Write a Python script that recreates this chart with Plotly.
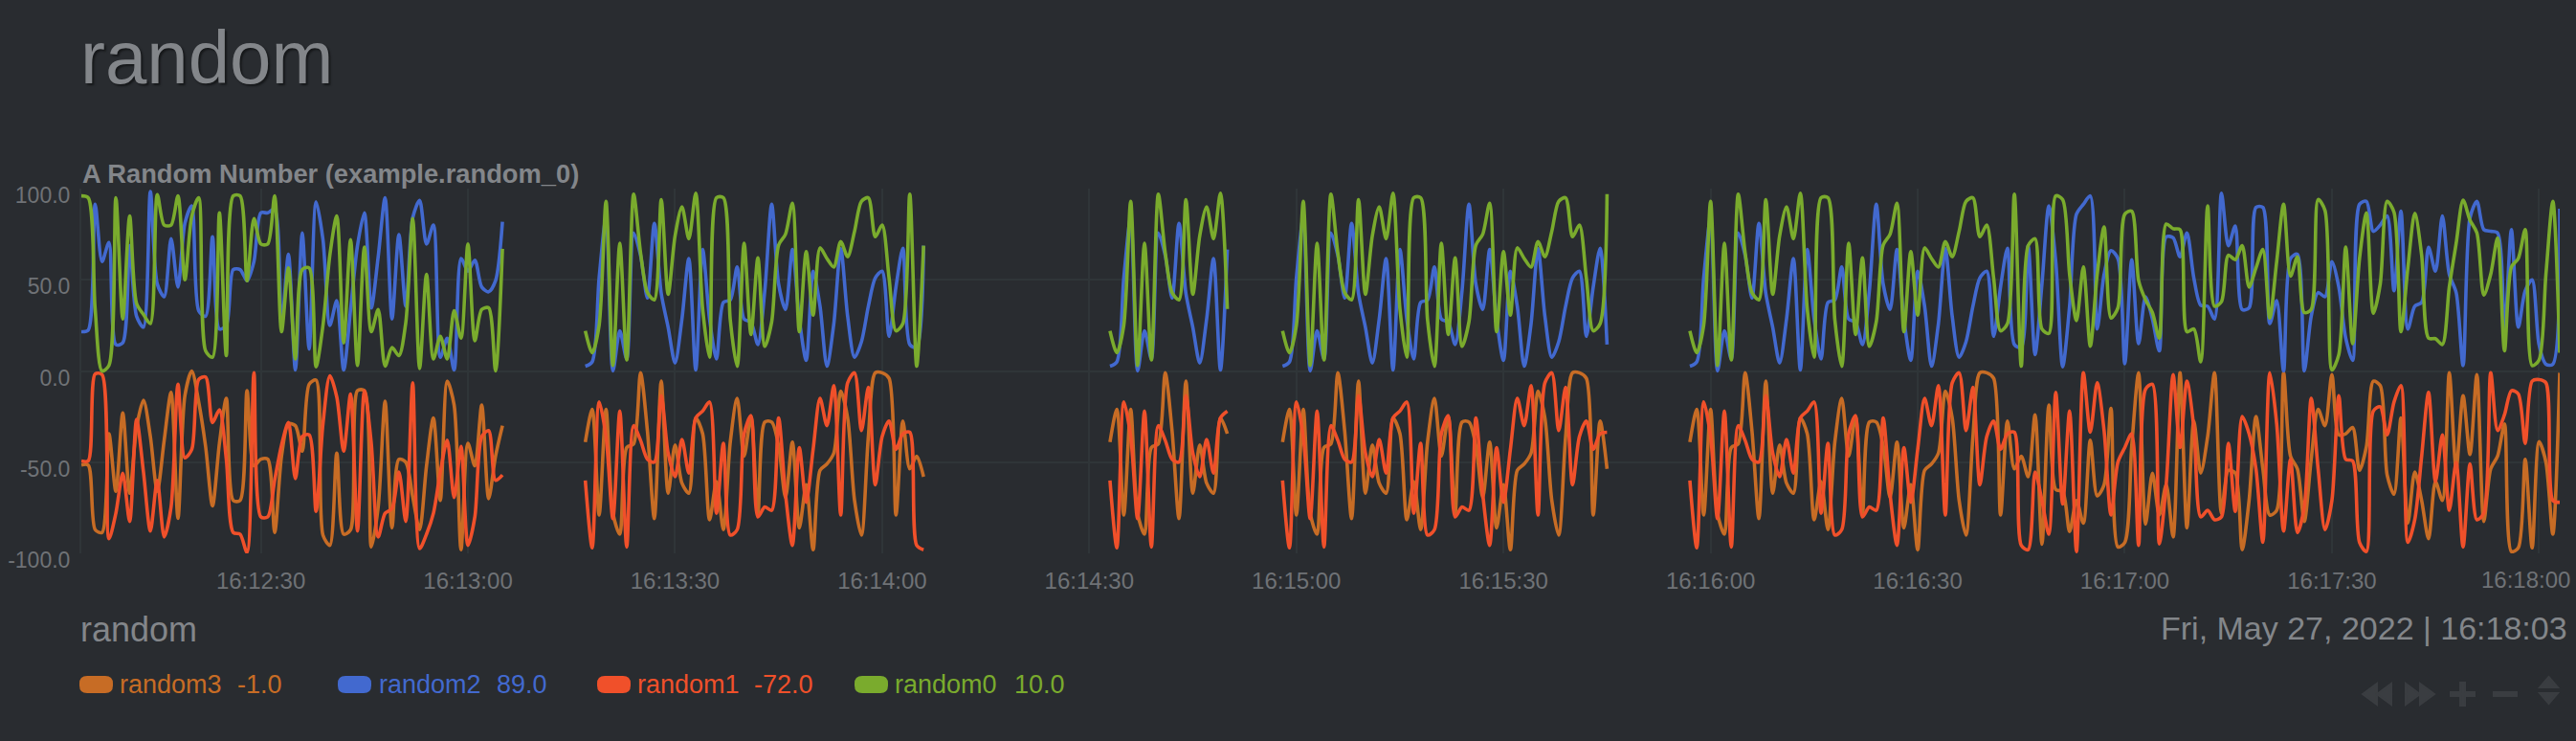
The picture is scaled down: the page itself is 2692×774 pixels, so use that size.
import pandas as pd
import plotly.graph_objects as go

WIDTH, HEIGHT = 2692, 774
LEFT, RIGHT, TOP, BOTTOM = 85, 2675, 197, 578

# first run of the collector, 16:12:04 onwards, one sample per second
first_start = "2022-05-27 16:12:04"
random0_first = [96, 95, 34, 0, 3, 95, 28.5, 85, 37, 31, 26, 96.7, 80, 80, 96, 50, 85, 95, 11, 7.5, 86.7, 8.4, 96, 96, 49.5, 83.6, 69.6, 69.6, 96, 21.5, 56.5, 6.6, 55.6, 56.5, 2.3, 25, 63.5, 85, 15.4, 72, 3, 68, 21.5, 33.7, 2.6, 12.8, 8.4, 26.7, 83.6, 1.4, 53, 6.6, 19, 6.6, 33, 18, 69.6, 16.6, 33.7, 34.6, 0, 67]
random2_first = [21.5, 22.4, 91.4, 60, 70.5, 14.5, 15.4, 68.7, 30, 24, 98.4, 47.7, 40.7, 72.5, 46, 81, 90.5, 33, 30, 73.6, 23, 25, 55.6, 55.6, 49.5, 60, 86.7, 86.7, 88.8, 25, 64, 0.5, 75.7, 12, 92.8, 72, 25, 38.6, 0.5, 33.7, 68.7, 86.7, 34.6, 62.6, 95, 28.5, 74.8, 35.5, 84, 93.5, 69.6, 80, 7.5, 18, 0.5, 61.7, 54.7, 60.8, 46, 43.4, 49.5, 81.8]
random3_first = [-51.6, -51.6, -87, -88.6, -34.4, -66, -23, -67, -31, -16, -36, -66, -38, -11.7, -80.8, -13.5, 0, -17, -41.4, -74, -39.7, -15, -71, -71, -10.8, -52, -48.4, -48.4, -88.6, -46.7, -29, -30, -44, -7.3, -5, -90, -95.6, -45, -89.5, -87, -10.8, -10.8, -96.5, -74.6, -16.6, -86, -48.4, -50, -69, -87, -52, -25.7, -71, -5.6, -18.7, -98, -39.7, -52, -18.7, -70, -46.7, -30]
random1_first = [-49.3, -49.3, -1.6, -2, -92, -78, -56, -82.5, -26.6, -55.4, -87.8, -60, -91, -74.6, -7.3, -47.6, -43, -4.7, -3.3, -28.3, -21.3, -48.4, -88.6, -89.5, -99.5, -1, -80, -80, -60, -40.6, -28.3, -59, -36, -35, -77, -29, -2.6, -14.3, -44, -12.6, -87.8, -10.8, -39.7, -91, -78, -75.5, -55.4, -82.5, -6.5, -97.4, -89.5, -78, -55.4, -38, -69.4, -41.4, -95.6, -80, -36, -32.7, -60, -57]

# the later runs all restart with the same seed, so they replay this sequence
replay_starts = ["2022-05-27 16:13:17", "2022-05-27 16:14:33", "2022-05-27 16:14:58", "2022-05-27 16:15:57"]
replay_lengths = [50, 18, 48, 127]
random0_replay = [22, 10, 25, 93, 3, 70, 6, 97, 65, 43, 39, 94, 42, 74, 90, 72.5, 97.5, 34, 7.5, 95, 95, 28, 2.5, 70, 20, 62, 13.5, 27, 69, 75, 92, 21.5, 65.5, 30.6, 67.5, 61.7, 57, 71, 62.6, 76.6, 93, 95, 73.6, 80, 51, 22, 26, 97, 2.6, 68.7, 72.5, 23, 20.6, 96, 94, 53, 27.6, 57, 13.6, 53, 79, 29, 34.6, 86, 87.6, 49.5, 39, 32, 18, 80.6, 78, 77.5, 21.5, 23, 5, 90.5, 35.5, 38, 63.5, 61, 68.7, 46, 56.5, 66.6, 29, 60, 91.4, 52, 62.6, 32, 33.7, 94, 88, 0.5, 9, 68, 15, 61.7, 86.7, 31.6, 47.7, 93, 87, 21.5, 56.5, 86.5, 63.5, 18, 17.7, 14.5, 46, 70, 93.7, 82.7, 75.7, 41.6, 53, 73, 11, 57, 61.7, 77.5, 3, 6, 53, 93, 10]
random2_replay = [2.6, 5, 51, 84, 0, 22, 6.6, 75.7, 63.5, 40, 81, 42.5, 24, 4.4, 28.5, 61.7, 0.5, 66.6, 28.5, 6.6, 37.6, 39, 57, 28.5, 26.7, 14.5, 44, 91.4, 47.7, 33.7, 66.6, 28.5, 5.8, 54.7, 35.5, 2.6, 26, 67, 30, 7.5, 16, 35.5, 51, 54.7, 19, 46, 67.3, 14.5, 12.8, 68.7, 9, 47.7, 90.5, 60, 2.3, 35.5, 86, 91.4, 96, 23, 53, 66, 61.7, 4, 61, 15, 40.7, 28.5, 11, 73.6, 73, 62.6, 75.7, 51, 36, 35.5, 28.5, 97.5, 68.7, 79.5, 33.7, 34.6, 89.7, 89.7, 26, 38.6, 0, 61.7, 64, 0, 30, 43, 40.7, 60, 46, 18, 5.8, 91.4, 93, 76.6, 80, 85, 44, 87.6, 23, 35.5, 37.6, 67.8, 54.7, 85, 53, 43, 3, 84, 93, 77.5, 76.6, 75.7, 23, 77.5, 24, 44, 50, 14.5, 3.7, 3.7, 89]
random3_replay = [-39, -21, -79, -21, -78, -89.5, -42, -40, -1, -33, -81, -5.6, -67, -40.6, -61.5, -67, -25.7, -34.4, -81.6, -60.6, -87, -39, -15, -46.7, -25, -78, -28, -28, -41, -69.4, -39, -86, -62.4, -98, -54.5, -51, -45, -11, -25.7, -71, -90, -36, -1, -1, -4, -79, -27.4, -53.7, -46.7, -58, -24, -95, -18.7, -65, -66, -88, -71, -83.4, -38, -68.5, -62.4, -20.5, -96.5, -94, -41.4, -1, -84, -56, -79, -62.4, -91, -1, -86, -27.4, -56, -36, -1, -78, -54.5, -56, -98, -71, -25, -53.7, -79, -76.4, -1, -46.7, -53.7, -82.5, -48.4, -21, -30, -2, -35, -34.4, -31, -54.5, -41.4, -5.6, -8, -57, -67.6, -25.7, -83.4, -55.4, -71, -92, -60.7, -71, -1, -53.7, -13.5, -45.8, -2, -82.5, -53.7, -46.7, -29, -99, -97, -48.4, -97, -38.8, -50, -89.5, -1]
random1_replay = [-60, -97, -17, -36, -81, -22, -96.5, -30, -38, -48.4, -50, -13.5, -45, -58, -37.6, -56, -25.7, -22, -17, -78, -39.7, -90, -87, -34.4, -24.5, -80, -74.6, -76.4, -25.7, -67.6, -95.6, -42, -72, -43, -15, -30, -8, -79, -6.5, -1, -32.7, -9, -62.4, -36, -27.4, -43, -34.4, -33.6, -95.6, -98, -55.4, -71, -89.5, -11.7, -73, -22, -99, -1, -33.6, -6.5, -32.7, -79, -50, -42, -34.4, -95.6, -10, -7.3, -94.8, -62, -2, -42, -5.6, -31, -80, -76.4, -81.6, -80, -39.7, -77, -25, -34.4, -53.7, -94, -1, -29, -87.8, -48.4, -88.6, -74.6, -15, -53.7, -87, -71, -13.5, -48.4, -49.3, -94, -99, -22, -19.6, -35, -17, -8, -94, -81.6, -46.7, -11.7, -60.7, -35, -76.4, -50, -96.5, -51, -81.6, -78, -1, -32.7, -24, -10.8, -12.6, -39.7, -5.6, -4.7, -6.5, -71, -72]

# drawn in this order: later names sit on top
series_names = ["random3", "random2", "random1", "random0"]
series_first = [random3_first, random2_first, random1_first, random0_first]
series_replay = [random3_replay, random2_replay, random1_replay, random0_replay]
series_colors = ["#c76c25", "#4269cf", "#f0502a", "#7aab2d"]
latest_values = ["-1.0", "89.0", "-72.0", "10.0"]

y_ticks = [100, 50, 0, -50, -100]
x_ticks = ["16:12:30", "16:13:00", "16:13:30", "16:14:00", "16:14:30", "16:15:00", "16:15:30",
           "16:16:00", "16:16:30", "16:17:00", "16:17:30", "16:18:00"]

BG = "#292c30"
TEXT = "#83868a"
DIM = "#6f7276"
GRID = "#2f3538"
ICON = "#3a3d41"
FONT = "Liberation Sans"


def px_x(x):
    return (x - LEFT) / (RIGHT - LEFT)


def px_y(y):
    return (BOTTOM - y) / (BOTTOM - TOP)


def label(text, x, y, size, color=TEXT, anchor="left", **font):
    fig.add_annotation(
        text=text, x=px_x(x), y=px_y(y), xref="paper", yref="paper",
        xanchor=anchor, yanchor="middle", showarrow=False,
        font=dict(family=FONT, size=size, color=color, **font),
    )


def path_shape(points, color):
    # closed polygon given in window pixels
    path = "M" + " L".join(f"{px_x(x):.5f},{px_y(y):.5f}" for x, y in points) + " Z"
    fig.add_shape(type="path", path=path, xref="paper", yref="paper",
                  fillcolor=color, line=dict(color=color, width=2, ), layer="above")


def pill(x0, x1, y0, y1, color):
    r = 8
    xa, xb, ya, yb = px_x(x0), px_x(x1), px_y(y0), px_y(y1)
    dx, dy = r / (RIGHT - LEFT), r / (BOTTOM - TOP)
    path = (f"M{xa + dx:.5f},{ya:.5f} L{xb - dx:.5f},{ya:.5f} Q{xb:.5f},{ya:.5f} {xb:.5f},{ya - dy:.5f} "
            f"L{xb:.5f},{yb + dy:.5f} Q{xb:.5f},{yb:.5f} {xb - dx:.5f},{yb:.5f} "
            f"L{xa + dx:.5f},{yb:.5f} Q{xa:.5f},{yb:.5f} {xa:.5f},{yb + dy:.5f} "
            f"L{xa:.5f},{ya - dy:.5f} Q{xa:.5f},{ya:.5f} {xa + dx:.5f},{ya:.5f} Z")
    fig.add_shape(type="path", path=path, xref="paper", yref="paper",
                  fillcolor=color, line=dict(width=0), layer="above")


fig = go.Figure()

for name, first, replay, color in zip(series_names, series_first, series_replay, series_colors):
    xs = list(pd.date_range(first_start, periods=len(first), freq="s"))
    ys = list(first)
    for start, count in zip(replay_starts, replay_lengths):
        # None breaks the line where the collector was stopped
        xs += [None] + list(pd.date_range(start, periods=count, freq="s"))
        ys += [None] + replay[:count]
    fig.add_trace(go.Scatter(x=xs, y=ys, mode="lines", name=name, connectgaps=False,
                             line=dict(color=color, width=3.6, shape="spline", smoothing=0.8)))

fig.update_layout(
    width=WIDTH, height=HEIGHT, autosize=False, showlegend=False,
    paper_bgcolor=BG, plot_bgcolor=BG,
    margin=dict(l=LEFT, r=WIDTH - RIGHT, t=TOP, b=HEIGHT - BOTTOM, pad=0, autoexpand=False),
    font=dict(family=FONT, size=24, color=DIM),
)
fig.update_xaxes(
    range=["2022-05-27 16:12:04", "2022-05-27 16:18:03"],
    tickmode="array",
    tickvals=[f"2022-05-27 {t}" for t in x_ticks],
    # the last label is pulled left of its gridline, see below
    ticktext=x_ticks[:-1] + [""],
    showgrid=True, gridcolor=GRID, gridwidth=2, zeroline=False,
    showline=False, ticks="", ticklabelstandoff=12,
    tickfont=dict(family=FONT, size=24, color=DIM),
)
fig.update_yaxes(
    range=[-100, 100], tickmode="array", tickvals=y_ticks,
    ticktext=[f"{v:.1f}" for v in y_ticks],
    showgrid=True, gridcolor=GRID, gridwidth=2, zeroline=False,
    showline=True, linecolor=GRID, linewidth=2, ticks="",
    ticklabelshift=7, ticklabelstandoff=5,
    tickfont=dict(family=FONT, size=23, color=DIM),
)

label("random", 82, 60, 78, shadow="2px 2px 2px #16181a")
label("A Random Number (example.random_0)", 84, 181, 27.3, weight="bold")
label(x_ticks[-1], 2639, 605, 24, DIM, anchor="center")
label("random", 82, 657, 36)
label("Fri, May 27, 2022 | 16:18:03", 2685, 656, 34, anchor="right")

pill_x = [83, 353, 624, 893]
name_x = [123, 394, 664, 933]
value_x = [246, 517, 786, 1058]
for i, name in enumerate(series_names):
    pill(pill_x[i], pill_x[i] + 35, 706, 724, series_colors[i])
    label(name, name_x[i], 715, 27, series_colors[i])
    label(latest_values[i], value_x[i], 715, 27, series_colors[i])

# zoom and pan controls, barely visible in the corner
for tip, base in [(2469, 2484), (2484, 2499)]:
    path_shape([(tip, 725), (base, 714), (base, 736)], ICON)
for base, tip in [(2514, 2529), (2529, 2544)]:
    path_shape([(tip, 725), (base, 714), (base, 736)], ICON)
path_shape([(2561, 723), (2571, 723), (2571, 713), (2576, 713), (2576, 723), (2586, 723),
            (2586, 727), (2576, 727), (2576, 737), (2571, 737), (2571, 727), (2561, 727)], ICON)
path_shape([(2606, 723), (2630, 723), (2630, 727), (2606, 727)], ICON)
path_shape([(2663.5, 707), (2673, 718), (2654, 718)], ICON)
path_shape([(2663.5, 735), (2673, 724), (2654, 724)], ICON)

# the default page margin would push the figure off the window
fig.write_html("out.html", config=dict(displayModeBar=False),
               post_script="document.body.style.margin='0';document.body.style.overflow='hidden';")
